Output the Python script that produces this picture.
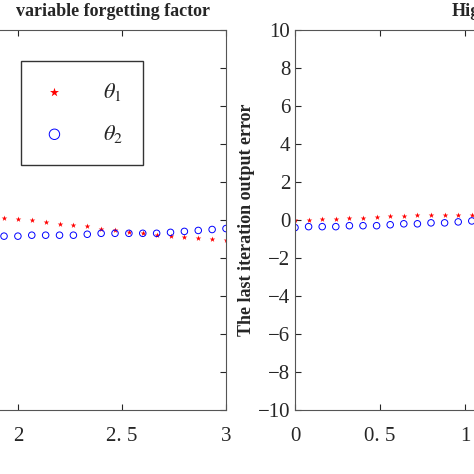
import numpy as np, pandas as pd, seaborn as sns, matplotlib
matplotlib.use("Agg")
import matplotlib.pyplot as plt

sns.set_style("white")
plt.rcParams['font.family'] = ['Liberation Serif', 'DejaVu Serif']
plt.rcParams['mathtext.fontset'] = 'stix'

left_x = [3 - k*0.0667 for k in range(16, -1, -1)]
left_t1 = [0.1, 0.05, 0.0, -0.1, -0.2, -0.25, -0.3, -0.45, -0.55, -0.65, -0.7, -0.8, -0.85, -0.9, -0.95, -1.0, -1.05]
left_t2 = [-0.85, -0.85, -0.8, -0.8, -0.8, -0.8, -0.75, -0.7, -0.7, -0.7, -0.7, -0.7, -0.65, -0.6, -0.55, -0.5, -0.45]
right_x = [k*0.08 for k in range(14)]
right_t1 = [0.0, 0.0, 0.05, 0.05, 0.1, 0.1, 0.15, 0.2, 0.2, 0.25, 0.25, 0.25, 0.25, 0.25]
right_t2 = [-0.4, -0.35, -0.35, -0.35, -0.3, -0.3, -0.3, -0.25, -0.2, -0.2, -0.15, -0.15, -0.1, -0.05]

fig = plt.figure(figsize=(4.74, 4.74), dpi=100)
W = 474
axL = fig.add_axes([-398/W, 64/W, 624/W, 380/W])
axR = fig.add_axes([295/W, 64/W, 510/W, 380/W])

def draw(ax, x, t1, t2):
    d = pd.DataFrame({'x': x, 't1': t1, 't2': t2})
    sns.scatterplot(data=d, x='x', y='t1', ax=ax, marker='*', color='red', s=18, linewidth=0, label=r'$\theta_1$')
    sns.scatterplot(data=d, x='x', y='t2', ax=ax, marker='o', facecolors='none', edgecolor='blue', s=22, linewidth=0.7, label=r'$\theta_2$')
    ax.set_xlim(0, 3); ax.set_ylim(-10, 10)
    ax.set_yticks(range(-10, 11, 2))
    ax.set_xticks([0, 0.5, 1, 1.5, 2, 2.5, 3])
    ax.set_xticklabels(['0', '0. 5', '1', '1. 5', '2', '2. 5', '3'])
    ax.set_yticklabels([('\u2212' + str(-v)) if v < 0 else str(v) for v in range(-10, 11, 2)])
    ax.tick_params(labelsize=15, direction='in', length=4, left=True, bottom=True, right=True, top=True)
    ax.tick_params(axis='x', pad=12)
    ax.set_xlabel(''); ax.set_ylabel('')
    for s in ax.spines.values():
        s.set_color('#555555'); s.set_linewidth(0.8)

draw(axL, left_x, left_t1, left_t2)
draw(axR, right_x, right_t1, right_t2)
axR.get_legend().remove()
leg = axL.legend(loc='upper left', bbox_to_anchor=(10/W, 424/W), bbox_transform=fig.transFigure,
                 fontsize=16, frameon=True, fancybox=False, edgecolor='black', handletextpad=1.6,
                 borderpad=0.9, labelspacing=0.9, markerscale=1.6, handlelength=1.2)
leg.get_frame().set_linewidth(1.0)
axR.set_ylabel('The last iteration output error', fontsize=13, fontweight='bold', labelpad=2)
fig.text(113/W, 1 - 12/W, 'variable forgetting factor', ha='center', va='center', fontsize=13, fontweight='bold')
fig.text(452/W, 1 - 12/W, 'High', ha='left', va='center', fontsize=13, fontweight='bold')
fig.savefig('out.png', dpi=100)
